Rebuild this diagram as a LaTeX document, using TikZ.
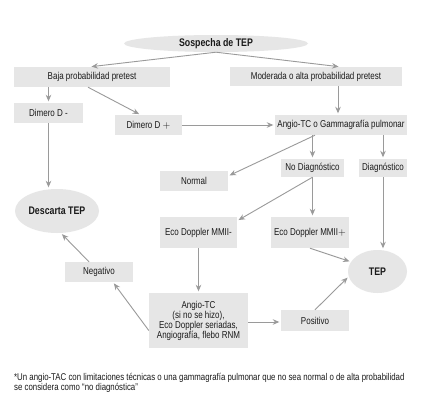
\documentclass[tikz,border=0pt]{standalone}
\usepackage{fontspec}
\setmainfont{Liberation Sans}[FakeStretch=0.8]
\usetikzlibrary{shapes.geometric,arrows.meta}
\definecolor{cajagris}{HTML}{E6E6E6}
\definecolor{lineagris}{HTML}{9A9A9A}
\definecolor{texto}{HTML}{1A1A1A}
\tikzset{
  caja/.style={fill=cajagris, text=texto, inner sep=0pt, align=center,
    font=\fontsize{10}{10}\selectfont},
  elipse/.style={ellipse, fill=cajagris, text=texto, inner sep=0pt,
    font=\fontsize{11}{11}\selectfont\bfseries},
  flecha/.style={draw=lineagris, line width=0.9pt, shorten >=1.5pt,
    -{Stealth[length=6.5pt,width=5.5pt]}, lineagris}
}
\begin{document}
\begin{tikzpicture}[x=1pt,y=-1pt]
  \useasboundingbox[fill=white] (0,0) rectangle (426,402);

  % top: suspicion and pretest probability
  \node[elipse, minimum width=184pt, minimum height=17pt] (sospecha) at (216,43.5) {Sospecha de TEP};
  \node[caja, minimum width=156pt, minimum height=20pt] (baja) at (92,77) {Baja probabilidad pretest};
  \node[caja, minimum width=172pt, minimum height=19pt] (moderada) at (316,76.5) {Moderada o alta probabilidad pretest};

  % D-dimer and imaging
  \node[caja, minimum width=69pt, minimum height=20pt] (dimmenos) at (48.5,113) {Dimero D -};
  \node[caja, minimum width=67pt, minimum height=20pt] (dimmas) at (148.5,125) {Dimero D $+$};
  \node[caja, minimum width=132pt, minimum height=20pt] (angio) at (341,125) {Angio-TC o Gammagrafía pulmonar};

  % imaging results
  \node[caja, minimum width=68pt, minimum height=20pt] (normal) at (194,181) {Normal};
  \node[caja, minimum width=63pt, minimum height=18pt] (nodiag) at (312.5,168) {No Diagnóstico};
  \node[caja, minimum width=48pt, minimum height=18pt] (diag) at (383,168) {Diagnóstico};

  % Doppler
  \node[caja, minimum width=77pt, minimum height=31pt] (ecomenos) at (198.5,232.5) {Eco Doppler MMII-};
  \node[caja, minimum width=78pt, minimum height=31pt] (ecomas) at (310,232.5) {Eco Doppler MMII$+$};

  % outcomes
  \node[elipse, minimum width=84pt, minimum height=44pt] (descarta) at (57,211) {Descarta TEP};
  \node[elipse, minimum width=59pt, minimum height=43pt] (tep) at (377.5,271.5) {TEP};
  \node[caja, minimum width=68pt, minimum height=20pt] (negativo) at (99,272) {Negativo};
  \node[caja, minimum width=99pt, minimum height=55pt] (pruebas) at (198.5,320.5)
    {Angio-TC\\(si no se hizo),\\Eco Doppler seriadas,\\Angiografía, flebo RNM};
  \node[caja, minimum width=68pt, minimum height=21pt] (positivo) at (315,320.5) {Positivo};

  % connectors
  \draw[flecha] (sospecha.south) -- ([xshift=-2pt]baja.north);
  \draw[flecha] (sospecha.south) -- ([xshift=24pt]moderada.north);
  \draw[flecha] (baja.south -| dimmenos) -- (dimmenos.north);
  \draw[flecha] ([xshift=-4pt]baja.south) -- ([xshift=-8pt]dimmas.north);
  \draw[flecha] (dimmas.east) -- (angio.west);
  \draw[flecha] ([xshift=-3pt]angio.north |- moderada.south) -- ([xshift=-3pt]angio.north);
  \draw[flecha] ([xshift=-26pt]angio.south) -- ([yshift=5pt]normal.east);
  \draw[flecha] (nodiag.north |- angio.south) -- (nodiag.north);
  \draw[flecha] (diag.north |- angio.south) -- (diag.north);
  \draw[flecha] (nodiag.south) -- ([yshift=-4pt]ecomenos.north east);
  \draw[flecha] (nodiag.south) -- (nodiag.south |- ecomas.north);
  \draw[flecha] (diag.south) -- (diag.south |- tep.north);
  \draw[flecha] (ecomas.south) -- (tep.160);
  \draw[flecha] (dimmenos.south) -- (dimmenos.south |- descarta.north);
  \draw[flecha] ([xshift=-10pt]negativo.north) -- (descarta.-80);
  \draw[flecha] (ecomenos.south) -- (pruebas.north);
  \draw[flecha] ([yshift=-10pt]pruebas.west) -- ([xshift=14pt]negativo.south);
  \draw[flecha] ([yshift=-1.5pt]pruebas.east) -- ([yshift=-1.5pt]positivo.west);
  \draw[flecha] (positivo.north) -- (tep.190);

  % footnote
  \node[anchor=north west, inner sep=0pt, align=left, text=texto,
    font=\fontsize{9.8}{10}\selectfont] (nota) at (14,373)
    {*Un angio-TAC con limitaciones técnicas o una gammagrafía pulmonar que no sea normal o de alta probabilidad\\
     se considera como “no diagnóstica”};
\end{tikzpicture}
\end{document}
